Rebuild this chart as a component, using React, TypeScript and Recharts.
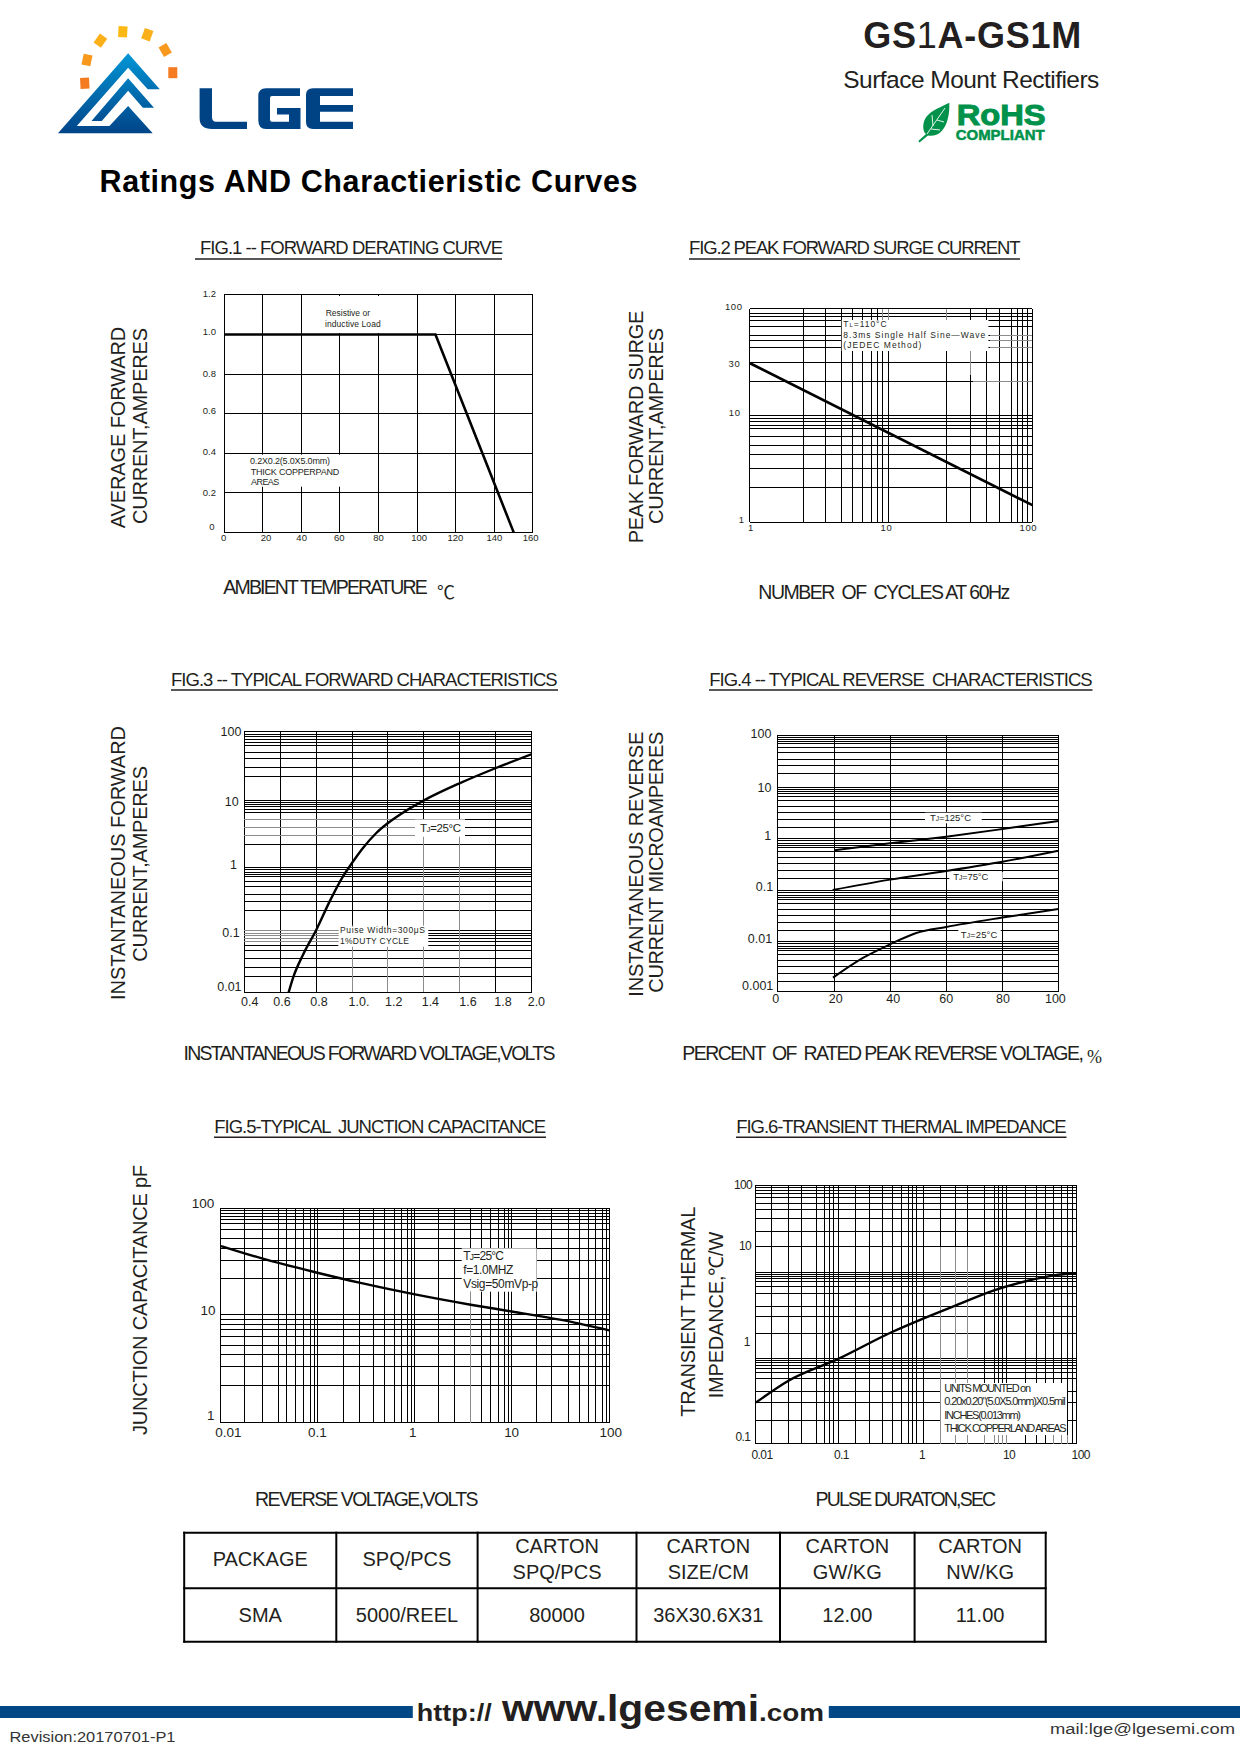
import { LineChart, Line, XAxis, YAxis, CartesianGrid, ReferenceLine } from 'recharts'

const FONT = '"Liberation Sans", Arial, sans-serif'
const INK = '#231f20'

// The printed log grids are hand drawn and not true log spacing, so every
// grid value below was read off the page on a real log scale.

// FIG.1
const fig1XGrid = [0, 20, 40, 60, 80, 100, 120, 140, 160]
const fig1YGrid = [0, 0.2, 0.4, 0.6, 0.8, 1.0, 1.2]
const fig1CurveX = [0, 109.5, 150]
const fig1CurveY = [1, 1, 0]
const fig1XText = ['0', '20', '40', '60', '80', '100', '120', '140', '160']
const fig1YText = ['0', '0.2', '0.4', '0.6', '0.8', '1.0', '1.2']

// FIG.2
const fig2XGrid = [1, 2.41, 3.45, 4.48, 5.28, 6.22, 7.31, 7.98, 8.66, 9.5, 24.5, 36.2, 47.2, 58.7, 71, 77.9, 84.5, 92.7, 100]
const fig2YGrid = [1, 2.14, 3.21, 4.34, 5.27, 6.45, 7.66, 8.18, 8.78, 9.37, 10.07, 21.1, 31.6, 43.1, 50.9, 56.6, 68.8, 77.7, 84.7, 91.7, 100]
const fig2CurveX = [1, 100]
const fig2CurveY = [31, 1.45]
const fig2XAt = [1, 9.5, 100]
const fig2XText = ['1', '10', '100']
const fig2YAt = [1, 10.07, 31.6, 100]
const fig2YText = ['1', '10', '30', '100']

// FIG.3
const fig3XGrid = [0.4, 0.6, 0.8, 1.0, 1.2, 1.4, 1.6, 1.8, 2.0]
const fig3YGrid = [0.01, 0.0178, 0.0245, 0.0329, 0.0437, 0.0527, 0.0608, 0.0676, 0.0743, 0.0816, 0.0886, 0.178, 0.25, 0.324, 0.421, 0.514, 0.598, 0.658, 0.706, 0.767, 0.834, 1.84, 2.58, 3.43, 4.5, 5.83, 6.56, 7.13, 7.83, 8.4, 9.02, 20.4, 28, 38.5, 47.6, 61, 70.2, 77.1, 84.8, 92, 100]
const fig3CurveX = [0.648, 0.672, 0.728, 0.802, 0.876, 0.95, 1.0, 1.061, 1.135, 1.2, 1.274, 1.4, 1.6, 1.8, 2.0]
const fig3CurveY = [0.01, 0.0166, 0.0379, 0.0918, 0.25, 0.606, 0.97, 1.65, 2.81, 4.0, 5.56, 8.91, 16.4, 28, 45.9]
const fig3XText = ['0.4', '0.6', '0.8', '1.0.', '1.2', '1.4', '1.6', '1.8', '2.0']
const fig3YAt = [0.01, 0.0886, 0.834, 9.02, 100]
const fig3YText = ['0.01', '0.1', '1', '10', '100']

// FIG.4
const fig4XGrid = [0, 20, 40, 60, 80, 100]
const fig4YGrid = [0.001, 0.00154, 0.00221, 0.00307, 0.00402, 0.00526, 0.0062, 0.00698, 0.00764, 0.00849, 0.00929, 0.0152, 0.0218, 0.0303, 0.0395, 0.0518, 0.0611, 0.0689, 0.0753, 0.0836, 0.0914, 0.157, 0.224, 0.312, 0.407, 0.533, 0.629, 0.709, 0.776, 0.861, 0.942, 1.57, 2.24, 3.12, 4.07, 5.33, 6.29, 7.09, 7.76, 8.61, 9.42, 17.7, 25.3, 34, 45.3, 56.6, 68.8, 75.3, 82.4, 90.1, 100]
const fig4HotX = [20, 40, 60, 80, 100]
const fig4HotY = [0.566, 0.776, 1.045, 1.47, 2.11]
const fig4WarmX = [19.5, 40, 60, 80, 100]
const fig4WarmY = [0.0955, 0.152, 0.224, 0.34, 0.558]
const fig4ColdX = [19.6, 30.3, 40, 49.3, 60, 80, 100]
const fig4ColdY = [0.00187, 0.00453, 0.00836, 0.0139, 0.0182, 0.0277, 0.0407]
const fig4XText = ['0', '20', '40', '60', '80', '100']
const fig4YAt = [0.001, 0.00929, 0.0914, 0.942, 9.42, 100]
const fig4YText = ['0.001', '0.01', '0.1', '1', '10', '100']

// FIG.5
const fig5XGrid = [0.01, 0.0174, 0.0269, 0.039, 0.0474, 0.0592, 0.0716, 0.0832, 0.0908, 0.0983, 0.182, 0.266, 0.371, 0.478, 0.61, 0.726, 0.837, 0.927, 0.996, 1.73, 2.57, 3.73, 4.84, 6, 7.19, 8.29, 9.26, 9.86, 17.6, 25.5, 37.8, 48.8, 60.8, 72.3, 85.3, 93.9, 100]
const fig5YGrid = [1, 2.21, 3.32, 4.32, 5.28, 6.44, 7.43, 8.22, 9.15, 10.2, 21.9, 32.8, 41.9, 51.9, 63.3, 71.5, 77.9, 83.6, 89.2, 94.4, 100]
const fig5CurveX = [0.01, 0.0269, 0.0983, 0.266, 0.996, 3.73, 9.86, 31, 100]
const fig5CurveY = [44.3, 33.8, 25, 20.2, 15.7, 12.6, 10.9, 9.15, 7.28]
const fig5XAt = [0.01, 0.0983, 0.996, 9.86, 100]
const fig5XText = ['0.01', '0.1', '1', '10', '100']
const fig5YAt = [1, 10.2, 100]
const fig5YText = ['1', '10', '100']

// FIG.6
const fig6XGrid = [0.01, 0.0158, 0.0251, 0.0368, 0.0566, 0.072, 0.0832, 0.0933, 0.108, 0.176, 0.262, 0.385, 0.499, 0.653, 0.791, 0.912, 1.02, 1.22, 2.02, 3.14, 4.31, 7.16, 9.37, 10.8, 12.1, 13.4, 23.3, 31.6, 41.4, 52.1, 65, 76.4, 89.1, 100]
const fig6YGrid = [0.1, 0.187, 0.299, 0.405, 0.567, 0.66, 0.741, 0.81, 0.869, 0.918, 0.959, 1.89, 2.95, 3.85, 5.55, 6.56, 7.5, 8.2, 8.73, 9.2, 9.62, 19.6, 29, 41.4, 52.2, 60.7, 71.3, 79.3, 86.7, 93.1, 100]
const fig6CurveX = [0.01, 0.0251, 0.108, 0.499, 1.22, 3.14, 9.37, 23.3, 52.1, 100]
const fig6CurveY = [0.299, 0.533, 0.968, 1.97, 2.82, 4.02, 6, 7.64, 8.95, 9.46]
const fig6XAt = [0.01, 0.108, 1.22, 13.4, 100]
const fig6XText = ['0.01', '0.1', '1', '10', '100']
const fig6YAt = [0.1, 0.959, 9.62, 100]
const fig6YText = ['0.1', '1', '10', '100']

// carton table
const tableHead = ['PACKAGE', 'SPQ/PCS', ['CARTON', 'SPQ/PCS'], ['CARTON', 'SIZE/CM'], ['CARTON', 'GW/KG'], ['CARTON', 'NW/KG']]
const tableRow = ['SMA', '5000/REEL', '80000', '36X30.6X31', '12.00', '11.00']

const zip = (xs: number[], ys: number[]) => xs.map((x, i) => ({ x, y: ys[i] }))

const AxisTick = ({ x, y, payload, labels, size, spacing }: any) => {
  const i = labels.at.indexOf(payload.value)
  if (i < 0) return <g />
  return (
    <text
      x={x + labels.dx[i]}
      y={y + labels.dy[i]}
      textAnchor="middle"
      dominantBaseline="central"
      fontSize={size}
      letterSpacing={spacing}
      fontFamily={FONT}
      fill={INK}
    >
      {labels.text[i]}
    </text>
  )
}

const Figure = ({ box, xLog, yLog, xDomain, yDomain, xGrid, yGrid, xLabels, yLabels, curves, fades, size, spacing }: any) => {
  const [l, t, r, b] = box
  const axisW = 50
  const axisH = 30
  const pad = 20
  return (
    <div style={{ position: 'absolute', left: l - axisW, top: t - pad }}>
      <LineChart
        width={r - l + axisW + pad}
        height={b - t + axisH + pad}
        margin={{ top: pad, right: pad, bottom: 0, left: 0 }}
      >
        <CartesianGrid stroke="#000" strokeWidth={1} shapeRendering="crispEdges" />
        <XAxis
          dataKey="x"
          type="number"
          scale={xLog ? 'log' : 'linear'}
          domain={xDomain}
          ticks={xGrid}
          interval={0}
          height={axisH}
          tickSize={0}
          tickLine={false}
          axisLine={false}
          allowDataOverflow
          tick={(p: any) => <AxisTick {...p} labels={xLabels} size={size} spacing={spacing} />}
        />
        <YAxis
          type="number"
          scale={yLog ? 'log' : 'linear'}
          domain={yDomain}
          ticks={yGrid}
          interval={0}
          width={axisW}
          tickSize={0}
          tickLine={false}
          axisLine={false}
          allowDataOverflow
          tick={(p: any) => <AxisTick {...p} labels={yLabels} size={size} spacing={spacing} />}
        />
        {(fades || []).map((f: number[], i: number) => (
          <ReferenceLine
            key={i}
            segment={[{ x: f[0], y: f[1] }, { x: f[2], y: f[3] }]}
            stroke="#fff"
            strokeOpacity={0.55}
            strokeWidth={1}
            shapeRendering="crispEdges"
          />
        ))}
        {curves.map((c: any, i: number) => (
          <Line
            key={i}
            data={c.data}
            dataKey="y"
            type={c.type || 'monotone'}
            stroke="#000"
            strokeWidth={c.width}
            dot={false}
            activeDot={false}
            isAnimationActive={false}
          />
        ))}
      </LineChart>
    </div>
  )
}

const T = ({ x, y, w, size = 20, bold, rot, color = INK, family = FONT, anchor, squeeze, children }: any) => (
  <text
    x={x}
    y={y}
    fontSize={size}
    fontWeight={bold ? 700 : 400}
    fontFamily={family}
    fill={color}
    textLength={w}
    lengthAdjust={squeeze ? 'spacingAndGlyphs' : 'spacing'}
    textAnchor={anchor}
    transform={rot ? `rotate(-90 ${x} ${y})` : undefined}
    xmlSpace="preserve"
  >
    {children}
  </text>
)

const Sub = ({ children }: any) => <tspan fontSize="70%">{children}</tspan>

const masks = [
  [323.3, 296, 60, 37], [248.3, 454.7, 91.7, 32],
  [841.7, 320, 146.7, 31],
  [415, 819.3, 50, 17.4], [338.3, 925.7, 90, 21],
  [925, 812.7, 56.7, 10.6], [949.3, 872, 53.4, 9.3], [958.3, 930, 42.4, 9.3],
  [461.7, 1248.3, 75, 43.4],
  [941, 1383, 126, 52],
]

const titles: [string, number, number, number][] = [
  ['FIG.1 -- FORWARD DERATING CURVE', 200, 254.3, 303],
  ['FIG.2 PEAK FORWARD SURGE CURRENT', 689, 254.3, 331.5],
  ['FIG.3 -- TYPICAL FORWARD CHARACTERISTICS', 171, 686, 386.7],
  ['FIG.4 -- TYPICAL REVERSE  CHARACTERISTICS', 709.3, 686, 383.4],
  ['FIG.5-TYPICAL  JUNCTION CAPACITANCE', 214.3, 1132.7, 331.7],
  ['FIG.6-TRANSIENT THERMAL IMPEDANCE', 736.3, 1132.7, 330.4],
]
const underlines = [[195, 502, 259], [689, 1020, 259], [171, 558, 690], [709, 1092.5, 690], [214, 546, 1137.3], [736, 1066.5, 1137.3]]

const xTitles: [string, number, number, number][] = [
  ['AMBIENT TEMPERATURE', 223.3, 594.3, 204.4],
  ['NUMBER  OF  CYCLES AT 60Hz', 758.3, 599.3, 252],
  ['INSTANTANEOUS FORWARD VOLTAGE,VOLTS', 183.5, 1060, 372],
  ['PERCENT  OF  RATED PEAK REVERSE VOLTAGE,', 682.3, 1060, 401.5],
  ['REVERSE VOLTAGE,VOLTS', 255, 1505.7, 223.6],
  ['PULSE DURATON,SEC', 815.5, 1505.7, 180.7],
]
const yTitles: [string, number, number, number][] = [
  ['AVERAGE FORWARD', 125, 528.3, 201.6],
  ['CURRENT,AMPERES', 147.3, 524, 196],
  ['PEAK FORWARD SURGE', 642.7, 543.3, 232.6],
  ['CURRENT,AMPERES', 663.3, 524, 196],
  ['INSTANTANEOUS FORWARD', 125, 1000, 274],
  ['CURRENT,AMPERES', 147.3, 961.7, 195.7],
  ['INSTANTANEOUS REVERSE', 642.7, 996.7, 265],
  ['CURRENT MICROAMPERES', 663.3, 992.7, 261],
  ['JUNCTION CAPACITANCE pF', 146.7, 1435, 270],
  ['TRANSIENT THERMAL', 695, 1416.7, 210],
  ['IMPEDANCE,℃/W', 722.7, 1398.3, 166.7],
]

const tableCols = [184.2, 336.3, 477.6, 636.5, 780, 914.6, 1045.7]
const tableRows = [1532.7, 1588.3, 1641.7]

const Logo = () => (
  <g>
    <defs>
      <linearGradient id="peak" x1="0" y1="0" x2="0" y2="1">
        <stop offset="0" stopColor="#0096d6" />
        <stop offset="1" stopColor="#004488" />
      </linearGradient>
    </defs>
    <path
      fill="url(#peak)"
      d="M128.1,53.3 L159.8,89.3 H147.8 L128.1,67.7 L76.8,126 H109.4 L128.1,106 L152.7,133.3 H58 Z M128.1,78.3 L154,107.7 H142.9 L128.1,90.7 L101.8,121 H91.5 Z"
    />
    {[
      [84.8, 83.3, -3, '#f47b20'],
      [87, 60, 12, '#f8981d'],
      [100.4, 40.7, 35, '#fbb01a'],
      [122.8, 31.7, 3, '#fdb913'],
      [147.3, 34.7, 20, '#fbb01a'],
      [165.2, 50, -30, '#f8981d'],
      [172.8, 72.7, 0, '#f47b20'],
    ].map(([x, y, a, c]: any, i) => (
      <rect key={i} x={x - 4.5} y={y - 5.5} width={9} height={11} fill={c} transform={`rotate(${a} ${x} ${y})`} />
    ))}
    <path fill="#004385" d="M199.6,88.3 H212 V117 Q212,121.7 216,121.7 H247 V129 H212 Q199.6,129 199.6,118 Z" />
    <path
      fill="#004385"
      d="M266,88.3 H300 V96 H272 Q270,96 270,98 V119.5 Q270,121.7 272,121.7 H289 V114.5 H277 V108 H300.5 V129 H266 Q258.3,129 258.3,120 V96 Q258.3,88.3 266,88.3 Z"
    />
    <path fill="#004385" d="M313,88.3 H353 V96 H320 V105 H353 V111.7 H320 V121.7 H353 V129 H313 Q306,129 306,122 V95 Q306,88.3 313,88.3 Z" />
  </g>
)

const RoHS = () => (
  <g>
    <path
      fill="#00924a"
      d="M949.3,102.7 C935,110 923,113 923.3,128 C923.5,131 924.5,133 926,134 L918.3,141 L919.5,142.5 L928,135.5 C945,138 950,118 949.3,102.7 Z"
    />
    <path fill="none" stroke="#fff" strokeWidth={0.9} d="M927,134 L945,108 M933,126 L932,115 M937,120 L944,122 M931,129 L940,130" />
    <text x={956.7} y={125} fontSize={30} fontWeight={700} fontFamily={FONT} fill="#00924a" stroke="#00924a" strokeWidth={1} textLength={89} lengthAdjust="spacingAndGlyphs">RoHS</text>
    <text x={955.7} y={140} fontSize={14} fontWeight={700} fontFamily={FONT} fill="#00924a" stroke="#00924a" strokeWidth={0.5} textLength={89} lengthAdjust="spacingAndGlyphs">COMPLIANT</text>
  </g>
)

export default function App() {
  return (
    <div style={{ position: 'absolute', left: 0, top: 0, width: 1240, height: 1754, background: '#fff', overflow: 'hidden' }}>
      <Figure
        box={[224.3, 295.3, 533.3, 532.7]}
        xDomain={[0, 160]}
        yDomain={[0, 1.2]}
        xGrid={fig1XGrid}
        yGrid={fig1YGrid}
        size={9.5}
        xLabels={{ at: fig1XGrid, text: fig1XText, dx: [-0.3, 3.4, 0.4, -0.6, 0, 2, -0.3, 0, -2.3], dy: Array(9).fill(3.6) }}
        yLabels={{ at: fig1YGrid, text: fig1YText, dx: [-10, -12.6, -12.6, -12.6, -12.6, -12.6, -12.6], dy: [-5.4, -0.6, -1.6, -3.3, -1, -3, -1.6] }}
        curves={[{ data: zip(fig1CurveX, fig1CurveY), width: 2.6, type: 'linear' }]}
      />
      <Figure
        box={[750.3, 309.3, 1032.7, 522.7]}
        xLog
        yLog
        xDomain={[1, 100]}
        yDomain={[1, 100]}
        xGrid={fig2XGrid}
        yGrid={fig2YGrid}
        size={9.5}
        spacing={0.6}
        xLabels={{ at: fig2XAt, text: fig2XText, dx: [1, -1.6, -4], dy: [3.6, 3.6, 3.6] }}
        yLabels={{ at: fig2YAt, text: fig2YText, dx: [-6.3, -13.3, -13.6, -14.3], dy: [-2.7, -2.4, 1.6, -2.3] }}
        curves={[{ data: zip(fig2CurveX, fig2CurveY), width: 2.6, type: 'linear' }]}
        fades={[
          [49.9, 43.1, 100, 43.1], [49.9, 50.9, 100, 50.9], [49.9, 56.6, 100, 56.6],
          [38, 21.1, 100, 21.1], [36.2, 24.2, 36.2, 40.1], [8.66, 77.7, 8.66, 100], [9.5, 77.7, 9.5, 100], [24.5, 77.7, 24.5, 100],
        ]}
      />
      <Figure
        box={[244.3, 732.3, 532.3, 992.7]}
        yLog
        xDomain={[0.4, 2.0]}
        yDomain={[0.01, 100]}
        xGrid={fig3XGrid}
        yGrid={fig3YGrid}
        size={12.5}
        xLabels={{ at: fig3XGrid, text: fig3XText, dx: [5.7, 2, 3, 7, 5.7, 6.4, 8, 7, 4.4], dy: Array(9).fill(8) }}
        yLabels={{ at: fig3YAt, text: fig3YText, dx: [-12.6, -11, -8.6, -10.3, -11], dy: [-5.4, 2.3, -2, 2, 0] }}
        curves={[{ data: zip(fig3CurveX, fig3CurveY), width: 2.4 }]}
        fades={[
          [0.4, 4.5, 1.348, 4.5], [0.4, 3.43, 1.348, 3.43], [0.4, 2.58, 1.348, 2.58],
          [0.4, 0.0886, 0.922, 0.0886], [0.4, 0.0816, 0.922, 0.0816], [0.4, 0.0743, 0.922, 0.0743], [0.4, 0.0676, 0.922, 0.0676], [0.4, 0.0608, 0.922, 0.0608],
          [1.0, 0.01, 1.0, 0.0527], [1.2, 0.01, 1.2, 0.0527], [1.4, 0.01, 1.4, 2.58], [1.6, 0.01, 1.6, 2.58],
        ]}
      />
      <Figure
        box={[778.3, 734.7, 1058.7, 991.3]}
        yLog
        xDomain={[0, 100]}
        yDomain={[0.001, 100]}
        xGrid={fig4XGrid}
        yGrid={fig4YGrid}
        size={12.5}
        xLabels={{ at: fig4XGrid, text: fig4XText, dx: [-2.3, 1.7, 3, 0, 0.6, -3], dy: Array(6).fill(5.5) }}
        yLabels={{ at: fig4YAt, text: fig4YText, dx: [-18.3, -16, -11.6, -8.3, -11.6, -15], dy: [-6, -3.4, -4, -2.7, 0, -0.7] }}
        curves={[
          { data: zip(fig4HotX, fig4HotY), width: 2 },
          { data: zip(fig4WarmX, fig4WarmY), width: 2 },
          { data: zip(fig4ColdX, fig4ColdY), width: 2 },
        ]}
      />
      <Figure
        box={[221, 1207.7, 609.3, 1422.7]}
        xLog
        yLog
        xDomain={[0.01, 100]}
        yDomain={[1, 100]}
        xGrid={fig5XGrid}
        yGrid={fig5YGrid}
        size={13.5}
        xLabels={{ at: fig5XAt, text: fig5XText, dx: [7.3, 0, -2.3, 0, 1.4], dy: Array(5).fill(8) }}
        yLabels={{ at: fig5YAt, text: fig5YText, dx: [-8.3, -11, -16], dy: [-7, -4.3, -4.4] }}
        curves={[{ data: zip(fig5CurveX, fig5CurveY), width: 2.4 }]}
        fades={[[3.73, 1, 3.73, 16.5]]}
      />
      <Figure
        box={[756.3, 1184.7, 1076.7, 1443.3]}
        xLog
        yLog
        xDomain={[0.01, 100]}
        yDomain={[0.1, 100]}
        xGrid={fig6XGrid}
        yGrid={fig6YGrid}
        size={12}
        spacing={-0.6}
        xLabels={{ at: fig6XAt, text: fig6XText, dx: [6, 2.7, -1, 2.6, 4.3], dy: Array(5).fill(9.7) }}
        yLabels={{ at: fig6YAt, text: fig6YText, dx: [-11, -7.3, -9, -11], dy: [-6.6, -17, -26.3, 0] }}
        curves={[{ data: zip(fig6CurveX, fig6CurveY), width: 2.4 }]}
        fades={[
          [2.02, 0.1, 2.02, 19.1], [3.14, 0.1, 3.14, 19.1], [4.31, 0.1, 4.31, 19.1],
          [7.16, 0.1, 7.16, 0.125], [9.37, 0.1, 9.37, 0.125], [10.8, 0.1, 10.8, 0.125], [12.1, 0.1, 12.1, 0.125], [13.4, 0.1, 13.4, 0.125],
          [52.1, 0.1, 52.1, 0.125], [65, 0.1, 65, 0.125], [76.4, 0.1, 76.4, 0.125],
        ]}
      />

      <svg
        width={1240}
        height={1754}
        style={{ position: 'absolute', left: 0, top: 0, pointerEvents: 'none' }}
      >
        <Logo />
        <RoHS />
        <text x={863.3} y={47.7} fontSize={36} fontWeight={700} fontFamily={FONT} fill={INK} textLength={218}>
          GS<tspan fontWeight={400}>1</tspan>A-GS1M
        </text>
        <T x={843.3} y={87.7} w={256} size={24.5}>Surface Mount Rectifiers</T>
        <T x={99.5} y={192.2} w={538} size={30.5} bold color="#000">Ratings AND Charactieristic Curves</T>

        {masks.map(([x, y, w, h], i) => <rect key={i} x={x} y={y} width={w} height={h} fill="#fff" />)}

        {titles.map(([s, x, y, w], i) => <T key={i} x={x} y={y} w={w} size={18.5}>{s}</T>)}
        {underlines.map(([x1, x2, y], i) => <line key={i} x1={x1} x2={x2} y1={y} y2={y} stroke={INK} strokeWidth={1.4} />)}
        {xTitles.map(([s, x, y, w], i) => <T key={i} x={x} y={y} w={w} size={19.5}>{s}</T>)}
        {yTitles.map(([s, x, y, w], i) => <T key={i} x={x} y={y} w={w} size={20} rot>{s}</T>)}
        <T x={437} y={599} size={18} family='"Noto Sans CJK SC"'>℃</T>
        <T x={1087} y={1063} size={18} family='"Liberation Serif"'>%</T>

        {/* fig 1 notes */}
        <T x={325.7} y={315.7} w={44.3} size={8.5}>Resistive or</T>
        <T x={325} y={326.7} w={55.7} size={8.5}>inductive Load</T>
        <T x={250} y={463.7} w={80} size={9}>0.2X0.2(5.0X5.0mm)</T>
        <T x={250.7} y={475} w={88.6} size={9}>THICK COPPERPAND</T>
        <T x={251} y={485} w={28.3} size={9}>AREAS</T>
        {/* fig 2 notes */}
        <T x={843.3} y={327.3} w={43.3} size={8.5}>T<Sub>L</Sub>=110°C</T>
        <T x={843.3} y={338} w={142} size={8.5}>8.3ms Single Half Sine—Wave</T>
        <T x={843.3} y={348.3} w={78} size={8.5}>(JEDEC Method)</T>
        {/* fig 3 notes */}
        <T x={420} y={831.7} w={41} size={11.5}>T<Sub>J</Sub>=25°C</T>
        <T x={340} y={932.7} w={85} size={8.5}>Puise Width=300μS</T>
        <T x={340} y={944} w={69} size={8.5}>1%DUTY CYCLE</T>
        {/* fig 4 notes */}
        <T x={930} y={821} w={41} size={9.5}>T<Sub>J</Sub>=125°C</T>
        <T x={953.3} y={880} w={35} size={9.5}>T<Sub>J</Sub>=75°C</T>
        <T x={960.7} y={937.7} w={36.7} size={9.5}>T<Sub>J</Sub>=25°C</T>
        {/* fig 5 notes */}
        <T x={463.3} y={1260} w={40.7} size={12}>T<Sub>J</Sub>=25°C</T>
        <T x={463.3} y={1274} w={50} size={12}>f=1.0MHZ</T>
        <T x={463.3} y={1288} w={75} size={12}>Vsig=50mVp-p</T>
        {/* fig 6 notes */}
        <T x={944.3} y={1391.7} w={86.7} size={11}>UNITS MOUNTED on</T>
        <T x={944.3} y={1405} w={121.3} size={11}>0.20x0.20"(5.0X5.0mm)X0.5mil</T>
        <T x={944.3} y={1418.7} w={76.7} size={11}>INCHES(0.013mm)</T>
        <T x={944.3} y={1432} w={122.3} size={11}>THICK COPPERLAND AREAS</T>

        {tableCols.map((x) => <line key={x} x1={x} x2={x} y1={tableRows[0] - 1} y2={tableRows[2] + 1} stroke="#000" strokeWidth={2} />)}
        {tableRows.map((y) => <line key={y} x1={tableCols[0] - 1} x2={tableCols[6] + 1} y1={y} y2={y} stroke="#000" strokeWidth={2} />)}
        {tableHead.map((h, i) => {
          const cx = (tableCols[i] + tableCols[i + 1]) / 2
          return Array.isArray(h)
            ? h.map((s, k) => (
                <T key={`${i}${k}`} x={cx} y={1553.3 + k * 26} size={20} anchor="middle">{s}</T>
              ))
            : <T key={i} x={cx} y={1565.7} size={20} anchor="middle">{h}</T>
        })}
        {tableRow.map((s, i) => (
          <T key={s} x={(tableCols[i] + tableCols[i + 1]) / 2} y={1621.7} size={20} anchor="middle">{s}</T>
        ))}

        <rect x={0} y={1706} width={412.8} height={12} fill="#004785" />
        <rect x={828.8} y={1706} width={411.2} height={12} fill="#004785" />
        <T x={416.8} y={1721} w={75} size={24} bold squeeze>http://</T>
        <T x={502} y={1721} w={257} size={37} bold squeeze>www.lgesemi</T>
        <T x={759} y={1721} w={65} size={24} bold squeeze>.com</T>
        <T x={9.5} y={1741.7} w={166} size={15.5} color="#333" squeeze>Revision:20170701-P1</T>
        <T x={1050} y={1734} w={185} size={15.5} color="#333" squeeze>mail:lge@lgesemi.com</T>
      </svg>
    </div>
  )
}
